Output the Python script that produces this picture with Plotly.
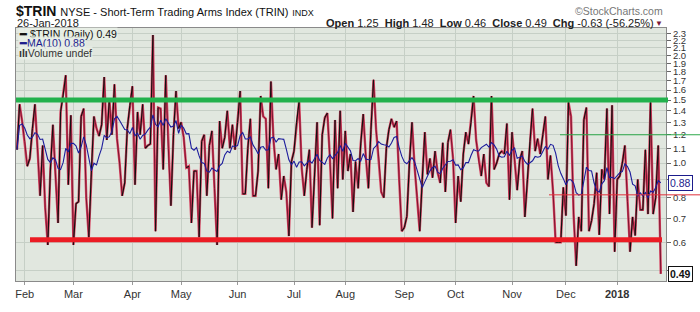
import pandas as pd
import plotly.graph_objects as go
import math

# ---------------- data ----------------
start_date = "2017-01-27"
end_date = "2018-01-26"
holidays = ["2017-02-20", "2017-04-14", "2017-05-29", "2017-07-04", "2017-09-04",
            "2017-11-23", "2017-12-25", "2018-01-01", "2018-01-15"]

trin = [
    1.09, 1.46, 1.31, 1.15, 0.98, 1.03, 1.25, 1.46, 1.10, 0.81,
    1.12, 0.75, 0.59, 0.95, 1.28, 0.92, 0.68, 1.39, 1.55, 1.76,
    0.87, 1.36, 0.59, 0.77, 0.78, 1.35, 1.42, 0.80, 0.62, 0.95,
    1.35, 1.25, 1.19, 1.28, 1.74, 1.16, 1.51, 1.20, 1.66, 1.17,
    1.00, 0.81, 0.88, 1.25, 1.45, 1.64, 0.87, 1.39, 1.20, 1.46,
    1.10, 1.12, 1.13, 2.28, 0.645, 1.43, 1.42, 0.96, 1.76, 1.10,
    0.76, 1.20, 1.59, 1.25, 1.30, 1.18, 0.97, 0.98, 0.68, 0.95,
    0.95, 0.62, 1.15, 1.20, 0.81, 1.12, 1.23, 0.85, 0.59, 1.31,
    1.10, 1.18, 1.40, 1.10, 1.28, 1.09, 1.30, 1.59, 0.82, 0.82,
    1.10, 1.33, 0.81, 0.81, 0.95, 1.54, 1.35, 1.33, 0.85, 1.69,
    1.16, 0.96, 1.06, 0.79, 0.92, 0.83, 0.625, 1.01, 1.08, 1.30,
    1.49, 0.97, 0.81, 0.96, 1.09, 0.66, 0.92, 1.30, 0.67, 1.20,
    1.34, 1.38, 1.03, 0.70, 1.32, 0.85, 1.40, 0.90, 1.23, 0.95,
    1.06, 0.73, 1.01, 0.85, 1.13, 1.37, 1.04, 0.85, 1.24, 1.71,
    1.24, 1.04, 0.83, 0.80, 1.10, 1.24, 1.33, 1.26, 1.31, 0.90,
    0.645, 0.66, 0.71, 1.00, 1.30, 0.98, 0.80, 0.645, 0.90, 1.22,
    0.93, 1.03, 0.91, 1.08, 0.94, 0.88, 1.14, 0.83, 1.14, 1.24,
    1.03, 0.68, 0.92, 0.78, 1.06, 1.22, 1.13, 1.30, 1.54, 1.16,
    1.02, 0.92, 1.06, 0.88, 0.86, 1.54, 0.96, 1.00, 1.06, 1.08,
    1.06, 1.29, 0.79, 1.22, 1.02, 0.84, 1.02, 1.08, 0.707, 0.90,
    1.15, 1.42, 1.08, 1.17, 1.06, 1.20, 1.35, 0.90, 1.05, 0.83,
    0.60, 0.60, 0.60, 0.855, 0.713, 1.48, 1.35, 0.72, 0.516, 0.707,
    0.645, 1.32, 1.43, 0.645, 0.69, 0.77, 0.94, 0.63, 0.96, 0.90,
    1.42, 0.72, 1.45, 0.565, 0.90, 0.92, 1.00, 1.12, 0.78, 0.565,
    0.707, 0.627, 0.90, 0.74, 0.74, 1.09, 0.72, 1.48, 0.72, 0.80,
    1.12, 0.49,
]

month_labels = ["Feb", "Mar", "Apr", "May", "Jun", "Jul", "Aug", "Sep", "Oct",
                "Nov", "Dec", "<b>2018</b>"]
y_ticks = [0.5, 0.6, 0.7, 0.8, 0.9, 1.0, 1.1, 1.2, 1.3, 1.4, 1.5, 1.6, 1.7,
           1.8, 1.9, 2.0, 2.1, 2.2, 2.3]
# 0.5 and 0.9 sit behind the value flags, as in the original
y_tick_text = ["", "0.6", "0.7", "0.8", "", "1.0", "1.1", "1.2", "1.3", "1.4",
               "1.5", "1.6", "1.7", "1.8", "1.9", "2.0", "2.1", "2.2", "2.3"]

resistance_level = 1.5
support_level = 0.61
thin_green_level = 1.2
thin_red_level = 0.815
ma_period = 10

# ---------------- derived ----------------
dates = [d for d in pd.bdate_range(start_date, end_date)
         if d.strftime("%Y-%m-%d") not in holidays]
n = len(trin)
dates = dates[:n]
idx = list(range(n))
ma = pd.Series(trin).rolling(ma_period, min_periods=1).mean().tolist()

month_pos = []
for i in range(1, n):
    if dates[i].month != dates[i - 1].month:
        month_pos.append(i)
month_pos = month_pos[:len(month_labels)]

up_x, up_y, dn_x, dn_y = [], [], [], []
for i in range(1, n):
    seg_x = [idx[i - 1], idx[i], None]
    seg_y = [trin[i - 1], trin[i], None]
    if trin[i] >= trin[i - 1]:
        up_x += seg_x; up_y += seg_y
    else:
        dn_x += seg_x; dn_y += seg_y

fig = go.Figure()
fig.add_trace(go.Scatter(x=idx, y=trin, mode="lines",
                         line=dict(color="#d8415f", width=2.4), hoverinfo="skip"))
fig.add_trace(go.Scatter(x=dn_x, y=dn_y, mode="lines",
                         line=dict(color="#7c1430", width=1.0), hoverinfo="skip"))
fig.add_trace(go.Scatter(x=up_x, y=up_y, mode="lines",
                         line=dict(color="#111111", width=1.2), hoverinfo="skip"))
fig.add_trace(go.Scatter(x=idx, y=ma, mode="lines",
                         line=dict(color="#1c1c9c", width=1.1), hoverinfo="skip"))

L, R, T, B = 16, 34, 28, 16
W, H = 700, 312
pw = W - L - R
ph = H - T - B


def px_x(px):
    return (px - L) / pw


def px_y(py):
    return (H - B - py) / ph


shapes = [
    dict(type="line", xref="paper", yref="y", x0=0, x1=px_x(668),
         y0=resistance_level, y1=resistance_level,
         line=dict(color="#22b14c", width=5)),
    dict(type="line", xref="paper", yref="y", x0=px_x(30), x1=px_x(662),
         y0=support_level, y1=support_level,
         line=dict(color="#ec1c24", width=5)),
    dict(type="line", xref="paper", yref="y", x0=px_x(560), x1=px_x(700),
         y0=thin_green_level, y1=thin_green_level,
         line=dict(color="#2ca84a", width=1)),
    dict(type="line", xref="paper", yref="y", x0=px_x(549), x1=px_x(700),
         y0=thin_red_level, y1=thin_red_level,
         line=dict(color="#e0303a", width=1)),
]

FONT = "Liberation Sans, Arial, sans-serif"
ann = []
# header
ann.append(dict(xref="paper", yref="paper", x=px_x(14), y=px_y(10), xanchor="left",
                yanchor="middle", showarrow=False,
                text="<b>$TRIN</b> <span style='font-size:11px'>NYSE - Short-Term Trading Arms Index (TRIN)</span> <span style='font-size:9px'>INDX</span>",
                font=dict(family=FONT, size=14, color="#111")))
ann.append(dict(xref="paper", yref="paper", x=px_x(15), y=px_y(23), xanchor="left",
                yanchor="middle", showarrow=False, text="26-Jan-2018",
                font=dict(family=FONT, size=11, color="#222")))
ann.append(dict(xref="paper", yref="paper", x=px_x(656), y=px_y(23), xanchor="right",
                yanchor="middle", showarrow=False,
                text=f"<b>Open</b> 1.25  <b>High</b> 1.48  <b>Low</b> 0.46  <b>Close</b> {trin[-1]:.2f}  <b>Chg</b> -0.63 (-56.25%)",
                font=dict(family=FONT, size=11, color="#222")))
ann.append(dict(xref="paper", yref="paper", x=px_x(665), y=px_y(23), xanchor="right",
                yanchor="middle", showarrow=False, text="▼",
                font=dict(family=FONT, size=8, color="#7a1a3a")))
ann.append(dict(xref="paper", yref="paper", x=px_x(665), y=px_y(10), xanchor="right",
                yanchor="middle", showarrow=False, text="©StockCharts.com",
                font=dict(family=FONT, size=10.5, color="#777")))
# legend
ann.append(dict(xref="paper", yref="paper", x=px_x(18), y=px_y(34), xanchor="left",
                yanchor="middle", showarrow=False,
                text=f"<b>━</b> $TRIN (Daily) {trin[-1]:.2f}",
                bgcolor="rgba(232,238,230,0.85)", borderpad=0,
                font=dict(family=FONT, size=10.5, color="#111")))
ann.append(dict(xref="paper", yref="paper", x=px_x(18), y=px_y(44), xanchor="left",
                yanchor="middle", showarrow=False,
                text=f"<b>━</b>MA({ma_period}) {ma[-1]:.2f}",
                bgcolor="rgba(232,238,230,0.85)", borderpad=0,
                font=dict(family=FONT, size=10.5, color="#1c1c8c")))
ann.append(dict(xref="paper", yref="paper", x=px_x(18), y=px_y(54), xanchor="left",
                yanchor="middle", showarrow=False,
                text="<b>ılı</b>Volume undef",
                bgcolor="rgba(232,238,230,0.85)", borderpad=0,
                font=dict(family=FONT, size=10.5, color="#333")))
# value flags
ann.append(dict(xref="paper", yref="y", x=px_x(668), y=math.log10(ma[-1]),
                xanchor="left", yanchor="middle", showarrow=False,
                text=f"{ma[-1]:.2f}", bgcolor="white", bordercolor="#1c1c8c",
                borderwidth=1, borderpad=1,
                font=dict(family=FONT, size=10.5, color="#1c1c8c")))
ann.append(dict(xref="paper", yref="y", x=px_x(668), y=math.log10(trin[-1]),
                xanchor="left", yanchor="middle", showarrow=False,
                text=f"<b>{trin[-1]:.2f}</b>", bgcolor="white", bordercolor="#111",
                borderwidth=1, borderpad=1,
                font=dict(family=FONT, size=10.5, color="#111")))

x0 = -0.39
x1 = n - 1 + (666 - 660.8) / 2.565
fig.update_layout(
    width=W, height=H, margin=dict(l=L, r=R, t=T, b=B),
    paper_bgcolor="white", plot_bgcolor="#e1e7df", showlegend=False,
    shapes=shapes, annotations=ann,
    xaxis=dict(range=[x0, x1], tickmode="array", tickvals=month_pos,
               ticktext=month_labels, showgrid=True, gridcolor="#c6cfc6",
               gridwidth=1, zeroline=False, showline=True, linecolor="#8a8a8a",
               mirror=True, ticks="outside", ticklen=3, tickcolor="#999",
               tickfont=dict(family=FONT, size=11, color="#333")),
    yaxis=dict(type="log", range=[math.log10(0.468), math.log10(2.386)],
               side="right", tickmode="array", tickvals=y_ticks,
               ticktext=y_tick_text, showgrid=True, gridcolor="#c6cfc6",
               gridwidth=1, zeroline=False, showline=True, linecolor="#8a8a8a",
               mirror=True, ticks="outside", ticklen=4, tickcolor="#666",
               tickfont=dict(family=FONT, size=9.5, color="#333")),
)

fig.write_html("out.html")
